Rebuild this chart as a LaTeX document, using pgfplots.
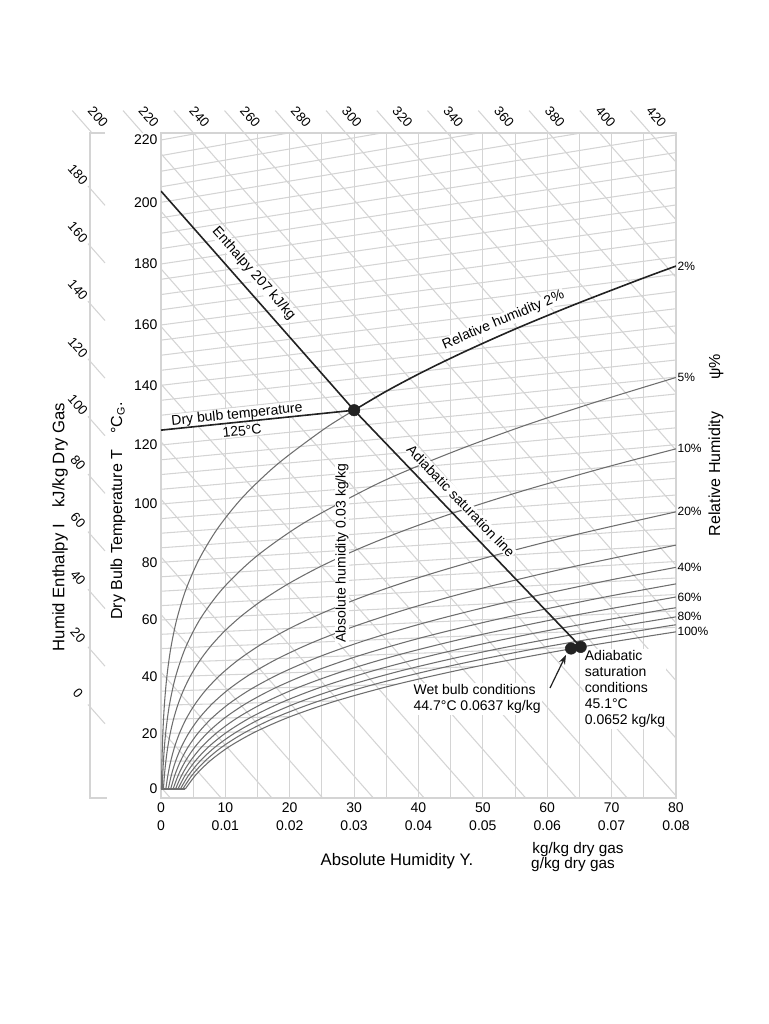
\documentclass[border=0pt]{standalone}
\usepackage{fontspec}
\setmainfont{Liberation Sans}
\usepackage{pgfplots}
\pgfplotsset{compat=1.18}
\usetikzlibrary{arrows.meta}

\definecolor{gridgray}{HTML}{D4D4D4}
\definecolor{curvegray}{HTML}{6E6E6E}
\definecolor{ink}{HTML}{222222}

\newcommand\annot{\fontsize{10.5}{12}\selectfont}

\begin{document}
\begin{tikzpicture}
\useasboundingbox (-120.75pt,-169.5pt) rectangle (455.25pt,598.5pt);
\begin{axis}[
  scale only axis,
  width=386.25pt, height=498.75pt,
  xmin=0, xmax=80, ymin=-3.05, ymax=222.4,
  clip mode=individual,
  unbounded coords=jump,
  axis line style={draw=gridgray, line width=0.8pt},
  xtick={0,10,20,30,40,50,60,70,80},
  minor xtick={5,15,25,35,45,55,65,75},
  xticklabels={{0\\0},{10\\0.01},{20\\0.02},{30\\0.03},{40\\0.04},{50\\0.05},{60\\0.06},{70\\0.07},{80\\0.08}},
  xmajorgrids, xminorgrids,
  major grid style={draw=gridgray, line width=0.8pt},
  minor grid style={draw=gridgray, line width=0.8pt},
  ytick={0,18.873,37.972,57.297,76.847,96.624,116.627,136.855,157.309,177.99,198.896,220.028},
  yticklabels={0,20,40,60,80,100,120,140,160,180,200,220},
  major tick length=0pt, minor tick length=0pt,
  xticklabel style={align=center, font=\fontsize{10.5}{13.5}\selectfont, inner sep=3pt},
  yticklabel style={font=\fontsize{10.5}{12}\selectfont, inner sep=2.5pt},
]

% isotherms, every 5 degC (ending on the saturation curve below 50 degC)
\addplot[gridgray, line width=0.8pt] coordinates {
(0,4.697) (5.399,4.746) (0,nan)
(0,9.408) (7.631,9.545) (0,nan)
(0,14.134) (10.646,14.421) (0,nan)
(0,18.873) (14.698,19.402) (0,nan)
(0,23.627) (20.082,24.531) (0,nan)
(0,28.394) (27.205,29.863) (0,nan)
(0,33.176) (36.58,35.481) (0,nan)
(0,37.972) (48.89,41.492) (0,nan)
(0,42.782) (65.05,48.051) (0,nan)
(0,47.606) (80,54.806) (0,nan)
(0,52.444) (80,60.364) (0,nan)
(0,57.297) (80,65.937) (0,nan)
(0,62.163) (80,71.523) (0,nan)
(0,67.044) (80,77.124) (0,nan)
(0,71.939) (80,82.739) (0,nan)
(0,76.847) (80,88.367) (0,nan)
(0,81.770) (80,94.01) (0,nan)
(0,86.707) (80,99.667) (0,nan)
(0,91.659) (80,105.339) (0,nan)
(0,96.624) (80,111.024) (0,nan)
(0,101.603) (80,116.723) (0,nan)
(0,106.597) (80,122.437) (0,nan)
(0,111.605) (80,128.165) (0,nan)
(0,116.627) (80,133.907) (0,nan)
(0,121.663) (80,139.663) (0,nan)
(0,126.713) (80,145.433) (0,nan)
(0,131.777) (80,151.217) (0,nan)
(0,136.855) (80,157.015) (0,nan)
(0,141.947) (80,162.827) (0,nan)
(0,147.054) (80,168.654) (0,nan)
(0,152.175) (80,174.495) (0,nan)
(0,157.309) (80,180.349) (0,nan)
(0,162.458) (80,186.218) (0,nan)
(0,167.621) (80,192.101) (0,nan)
(0,172.799) (80,197.999) (0,nan)
(0,177.99) (80,203.91) (0,nan)
(0,183.195) (80,209.835) (0,nan)
(0,188.415) (80,215.775) (0,nan)
(0,193.648) (80,221.728) (0,nan)
(0,198.896) (80,227.696) (0,nan)
(0,204.158) (80,233.678) (0,nan)
(0,209.433) (80,239.673) (0,nan)
(0,214.724) (80,245.684) (0,nan)
(0,220.028) (80,251.708)
};

% humid enthalpy lines, every 20 kJ/kg
\addplot[gridgray, line width=0.8pt] coordinates {
(0,0.56) (80,-197.6) (0,nan)
(0,20.09) (80,-178.07) (0,nan)
(0,39.62) (80,-158.54) (0,nan)
(0,59.15) (80,-139.01) (0,nan)
(0,78.68) (80,-119.48) (0,nan)
(0,98.21) (80,-99.95) (0,nan)
(0,117.74) (80,-80.42) (0,nan)
(0,137.27) (80,-60.89) (0,nan)
(0,156.8) (80,-41.36) (0,nan)
(0,176.33) (80,-21.83) (0,nan)
(0,195.86) (80,-2.3) (0,nan)
(0,215.39) (80,17.23) (0,nan)
(0,234.92) (80,36.76) (0,nan)
(0,254.45) (80,56.29) (0,nan)
(0,273.98) (80,75.82) (0,nan)
(0,293.51) (80,95.35) (0,nan)
(0,313.04) (80,114.88) (0,nan)
(0,332.57) (80,134.41) (0,nan)
(0,352.1) (80,153.94) (0,nan)
(0,371.63) (80,173.47) (0,nan)
(0,391.16) (80,193.0) (0,nan)
(0,410.69) (80,212.53)
};

% relative humidity curves
\pgfplotsset{rh/.style={curvegray, line width=0.8pt, smooth}}
\addplot[rh] coordinates {(3.774,0) (5.399,4.746) (7.631,9.545) (10.646,14.421) (14.698,19.402) (20.082,24.531) (27.205,29.863) (36.58,35.481) (48.89,41.492) (65.05,48.051) (80,53.28)};
\addplot[rh] coordinates {(3.395,0) (4.855,4.741) (6.859,9.531) (9.565,14.392) (13.197,19.348) (18.015,24.438) (24.378,29.71) (32.73,35.238) (43.659,41.115) (57.937,47.475) (76.64,54.504) (80,55.67)};
\addplot[rh] coordinates {(3.015,0) (4.312,4.736) (6.09,9.518) (8.487,14.363) (11.703,19.294) (15.962,24.345) (21.575,29.559) (28.924,34.998) (38.507,40.745) (50.971,46.911) (67.203,53.654) (80,58.36)};
\addplot[rh] coordinates {(2.637,0) (3.77,4.731) (5.322,9.504) (7.414,14.334) (10.216,19.241) (13.922,24.253) (18.797,29.409) (25.162,34.761) (33.436,40.379) (44.148,46.358) (58.019,52.828) (75.996,59.967) (80,61.44)};
\addplot[rh] coordinates {(2.259,0) (3.229,4.726) (4.556,9.49) (6.344,14.305) (8.736,19.187) (11.895,24.162) (16.042,29.26) (21.444,34.527) (28.44,40.02) (37.461,45.816) (49.077,52.023) (64.022,58.782) (80,65.10)};
\addplot[rh] coordinates {(1.881,0) (2.688,4.721) (3.792,9.476) (5.278,14.277) (7.263,19.134) (9.881,24.072) (13.311,29.113) (17.768,34.295) (23.521,39.666) (30.907,45.285) (40.367,51.239) (52.452,57.637) (67.882,64.628) (80,69.54)};
\addplot[rh] coordinates {(1.504,0) (2.149,4.716) (3.03,9.463) (4.215,14.248) (5.797,19.082) (7.88,23.982) (10.604,28.967) (14.133,34.066) (18.675,39.317) (24.482,44.765) (31.879,50.475) (41.266,56.529) (53.146,63.037) (68.2,70.142) (80,75.15)};
\addplot[rh] coordinates {(1.127,0) (1.61,4.711) (2.27,9.449) (3.156,14.219) (4.338,19.029) (5.891,23.892) (7.919,28.822) (10.54,33.84) (13.903,38.973) (18.183,44.255) (23.607,49.731) (30.444,55.458) (39.025,61.512) (49.785,67.988) (63.284,75.018) (80,82.68)};
\addplot[rh] coordinates {(0.751,0) (1.073,4.707) (1.511,9.435) (2.1,14.191) (2.885,18.977) (3.915,23.803) (5.257,28.678) (6.987,33.616) (9.2,38.634) (12.005,43.754) (15.541,49.005) (19.97,54.421) (25.484,60.049) (32.327,65.945) (40.805,72.185) (51.271,78.861) (64.186,86.09) (80,93.97)};
\addplot[rh] coordinates {(0.375,0) (0.536,4.702) (0.755,9.422) (1.048,14.162) (1.439,18.925) (1.951,23.715) (2.617,28.535) (3.474,33.395) (4.566,38.301) (5.945,43.264) (7.675,48.297) (9.827,53.417) (12.486,58.646) (15.755,64.006) (19.754,69.533) (24.621,75.263) (30.519,81.242) (37.648,87.531) (46.259,94.201) (56.628,101.343) (69.093,109.061) (80,115.32)};
\addplot[rh] coordinates {(0.188,0) (0.377,9.415) (0.719,18.899) (1.306,28.465) (2.275,38.136) (3.814,47.949) (6.181,57.965) (9.723,68.269) (14.894,78.992) (22.301,90.32) (32.728,102.515) (39.428,109.055) (47.366,115.975) (56.628,123.327) (67.618,131.232) (80,139.52)};
\addplot[rh] coordinates {(0.075,0) (0.151,9.41) (0.287,18.883) (0.522,28.422) (0.908,38.037) (1.52,47.743) (2.458,57.562) (3.853,67.529) (5.873,77.693) (8.732,88.122) (12.691,98.908) (18.119,110.185) (25.391,122.112) (30,128.41)};
\addplot[curvegray, line width=1pt] coordinates {(0,0) (3.774,0)};

% relative humidity labels at the right edge
\begin{scope}[every node/.style={anchor=west, inner sep=1pt, font=\fontsize{9}{10}\selectfont}]
\node at (axis cs:80,177.28) {2\%};
\node at (axis cs:80,139.52) {5\%};
\node at (axis cs:80,115.32) {10\%};
\node at (axis cs:80,93.97) {20\%};
\node at (axis cs:80,75.15) {40\%};
\node at (axis cs:80,65.10) {60\%};
\node at (axis cs:80,58.36) {80\%};
\node at (axis cs:80,53.28) {100\%};
\end{scope}

% enthalpy scale on the left and along the top
\draw[gridgray, line width=0.8pt] (axis cs:-8.70,222.4) -- (axis cs:-11.03,222.4) -- (axis cs:-11.03,-3.05) -- (axis cs:-8.39,-3.05);
\begin{scope}[gridgray, line width=0.8pt]
\draw (axis cs:-11.34,28.65) -- (axis cs:-8.70,22.11);
\draw (axis cs:-11.34,48.18) -- (axis cs:-8.70,41.64);
\draw (axis cs:-11.34,67.71) -- (axis cs:-8.70,61.17);
\draw (axis cs:-11.34,87.24) -- (axis cs:-8.70,80.70);
\draw (axis cs:-11.34,106.77) -- (axis cs:-8.70,100.23);
\draw (axis cs:-11.34,126.30) -- (axis cs:-8.70,119.76);
\draw (axis cs:-11.34,145.83) -- (axis cs:-8.70,139.29);
\draw (axis cs:-11.34,165.36) -- (axis cs:-8.70,158.82);
\draw (axis cs:-11.34,184.89) -- (axis cs:-8.70,178.35);
\draw (axis cs:-11.34,204.42) -- (axis cs:-8.70,197.88);
\draw (axis cs:-10.715,222.4) -- (axis cs:-13.785,230);
\draw (axis cs:-2.830,222.4) -- (axis cs:-5.900,230);
\draw (axis cs:5.055,222.4) -- (axis cs:1.985,230);
\draw (axis cs:12.939,222.4) -- (axis cs:9.869,230);
\draw (axis cs:20.824,222.4) -- (axis cs:17.754,230);
\draw (axis cs:28.708,222.4) -- (axis cs:25.638,230);
\draw (axis cs:36.593,222.4) -- (axis cs:33.523,230);
\draw (axis cs:44.477,222.4) -- (axis cs:41.407,230);
\draw (axis cs:52.362,222.4) -- (axis cs:49.292,230);
\draw (axis cs:60.246,222.4) -- (axis cs:57.176,230);
\draw (axis cs:68.131,222.4) -- (axis cs:65.061,230);
\draw (axis cs:76.015,222.4) -- (axis cs:72.945,230);
\end{scope}
\begin{scope}[every node/.style={rotate=-48.6, inner sep=0pt, font=\fontsize{10}{12}\selectfont}]
\node at (axis cs:-12.9,32.51) {0};
\node at (axis cs:-12.9,52.04) {20};
\node at (axis cs:-12.9,71.57) {40};
\node at (axis cs:-12.9,91.10) {60};
\node at (axis cs:-12.9,110.63) {80};
\node at (axis cs:-12.9,130.16) {100};
\node at (axis cs:-12.9,149.69) {120};
\node at (axis cs:-12.9,169.22) {140};
\node at (axis cs:-12.9,188.75) {160};
\node at (axis cs:-12.9,208.28) {180};
\node at (axis cs:-9.78,227.83) {200};
\node at (axis cs:-1.90,227.83) {220};
\node at (axis cs:5.98,227.83) {240};
\node at (axis cs:13.87,227.83) {260};
\node at (axis cs:21.75,227.83) {280};
\node at (axis cs:29.64,227.83) {300};
\node at (axis cs:37.52,227.83) {320};
\node at (axis cs:45.41,227.83) {340};
\node at (axis cs:53.29,227.83) {360};
\node at (axis cs:61.18,227.83) {380};
\node at (axis cs:69.06,227.83) {400};
\node at (axis cs:76.95,227.83) {420};
\end{scope}

% axis titles
\node[rotate=90, font=\fontsize{12.5}{15}\selectfont] at (axis cs:-15.69,88.83) {Humid Enthalpy I\quad kJ/kg Dry Gas};
\node[rotate=90, font=\fontsize{12}{14}\selectfont] at (axis cs:-6.68,94.25) {Dry Bulb Temperature T\quad °C\textsubscript{G}.};
\node[rotate=90, font=\fontsize{12}{14}\selectfont] at (axis cs:86.21,116.63) {Relative Humidity\hspace{2em}ψ\%};
\node[font=\fontsize{12.5}{15}\selectfont] at (axis cs:36.66,-24.41) {Absolute Humidity Y.};
\node[font=\fontsize{11.5}{13}\selectfont, inner sep=0pt] at (axis cs:64.78,-20.68) {kg/kg dry gas};
\node[font=\fontsize{11.5}{13}\selectfont, inner sep=0pt] at (axis cs:64.0,-25.77) {g/kg dry gas};

% annotations of the worked example
\node[rotate=-48.6, fill=white, inner sep=0.5pt, font=\annot] at (axis cs:14.4,174.7) {Enthalpy 207 kJ/kg};
\node[rotate=5.9, fill=white, inner sep=0.5pt, font=\annot] at (axis cs:11.81,126.8) {Dry bulb temperature};
\node[rotate=5.9, fill=white, inner sep=0.5pt, font=\annot] at (axis cs:12.58,121.4) {125°C};
\node[rotate=23, fill=white, inner sep=0.5pt, font=\annot] at (axis cs:53.2,158.9) {Relative humidity 2\%};
\node[rotate=-46.2, fill=white, inner sep=0.5pt, font=\annot] at (axis cs:46.6,97.6) {Adiabatic saturation line};
\node[rotate=90, fill=white, inner sep=0.5pt, font=\annot] at (axis cs:28.12,80.01) {Absolute humidity 0.03 kg/kg};
\node[anchor=north west, align=left, fill=white, inner sep=1pt, font=\annot] at (axis cs:39.0,35.9) {Wet bulb conditions\\44.7°C 0.0637 kg/kg};
\node[anchor=north west, align=left, fill=white, inner sep=1pt, font=\annot] at (axis cs:65.6,47.5) {Adiabatic\\saturation\\conditions\\45.1°C\\0.0652 kg/kg};

% highlighted state lines
\addplot[ink, line width=1.2pt] coordinates {(0,121.663) (30,128.41)};
\addplot[ink, line width=1.2pt] coordinates {(0,202.70) (30,128.41) (65.2,48.17)};
\addplot[ink, line width=1.2pt, smooth] coordinates {(30,128.41) (35.056,134.916) (40.958,141.73) (47.793,148.899) (55.57,156.451) (64.53,164.477) (74.685,173.012) (80,177.28)};

% state points
\addplot[only marks, mark=*, mark size=4.3pt, ink] coordinates {(30,128.41) (63.7,47.62) (65.2,48.17)};
\draw[ink, line width=0.9pt, -{Stealth[length=7pt,width=5pt]}] (axis cs:60.43,34.24) -- (axis cs:62.91,45.43);

\end{axis}
\end{tikzpicture}
\end{document}
